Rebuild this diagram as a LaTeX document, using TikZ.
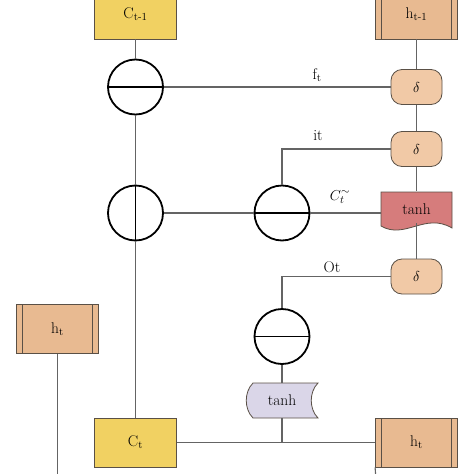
\documentclass[tikz,border=0pt]{standalone}
\usepackage{fontspec}
\usetikzlibrary{calc}
\definecolor{cyel}{RGB}{241,209,98}
\definecolor{hpeach}{RGB}{232,186,145}
\definecolor{spch}{RGB}{241,201,166}
\definecolor{tred}{RGB}{214,124,124}
\definecolor{tlav}{RGB}{218,214,232}
\definecolor{conn}{RGB}{100,100,100}
\definecolor{bord}{RGB}{90,80,70}
\begin{document}
\begin{tikzpicture}[x=1pt,y=-1pt,
  every node/.style={font=\fontsize{15.5}{18}\selectfont},
  wire/.style={draw=conn,line width=1.1pt},
  cbox/.style={draw=bord,line width=0.8pt,fill=cyel,minimum width=82pt,minimum height=49pt,inner sep=0pt},
  hbox/.style={draw=bord,line width=0.8pt,fill=hpeach,minimum width=82pt,minimum height=49pt,inner sep=0pt,
    path picture={\draw[bord,line width=0.8pt] ([xshift=6pt]path picture bounding box.north west) -- ([xshift=6pt]path picture bounding box.south west);
                  \draw[bord,line width=0.8pt] ([xshift=-6pt]path picture bounding box.north east) -- ([xshift=-6pt]path picture bounding box.south east);}},
  sig/.style={draw=bord,line width=0.8pt,fill=spch,rounded corners=11pt,minimum width=51pt,minimum height=35pt,inner sep=0pt},
  gate/.style={draw=black,line width=1.8pt,circle,minimum size=55pt,inner sep=0pt},
  shp/.style={minimum width=71pt,minimum height=36pt,inner sep=0pt},
  lbl/.style={inner sep=0pt}]
\useasboundingbox (0,0) rectangle (474,474);

% boxes
\node[cbox] (cprev) at (135.5,14.5) {C\textsubscript{t-1}};
\node[hbox] (hprev) at (416.5,14.5) {h\textsubscript{t-1}};
\node[cbox] (ct) at (135.5,442.5) {C\textsubscript{t}};
\node[hbox] (hr) at (416.5,442.5) {h\textsubscript{t}};
\node[hbox] (hl) at (57.5,329) {h\textsubscript{t}};

% sigma nodes
\node[sig] (s1) at (416.5,87) {$\delta$};
\node[sig] (s2) at (416.5,149) {$\delta$};
\node[sig] (s3) at (416.5,276.5) {$\delta$};

% tanh shapes
\filldraw[fill=tred,draw=bord,line width=0.8pt] (381,192) -- (452,192) -- (452,228) .. controls (425,212) and (405,240) .. (381,226) -- cycle;
\node[shp] (t1) at (416.5,209) {tanh};
\coordinate (t1b) at (416.5,223);

\filldraw[fill=tlav,draw=bord,line width=0.8pt] (253,383) -- (318,383) .. controls (309,392) and (309,409) .. (318,418) -- (253,418) .. controls (244,409) and (244,392) .. (253,383) -- cycle;
\node[shp,minimum width=64pt,minimum height=35pt] (t2) at (282,400.5) {tanh};

% gates
\node[gate] (g1) at (135.5,87) {};
\node[gate] (g2) at (135.5,213) {};
\node[gate] (g3) at (282,213) {};
\node[gate] (g4) at (282,336.5) {};
\draw[line width=1.8pt] (g1.west) -- (g1.east);
\draw[line width=1.8pt] (g2.north) -- (g2.south);
\draw[line width=1.8pt] (g3.west) -- (g3.east);
\draw[line width=1.8pt] (g4.west) -- (g4.east);

% wires
\draw[wire] (cprev.south) -- (g1.north);
\draw[wire] (g1.south) -- (g2.north);
\draw[wire] (g2.south) -- (ct.north);
\draw[wire] (g1.east) -- (s1.west);
\draw[wire] (hprev.south) -- (s1.north);
\draw[wire] (s1.south) -- (s2.north);
\draw[wire] (s2.south) -- (t1.north);
\draw[wire] (t1b) -- (s3.north);
\draw[wire] (s2.west) -| (g3.north);
\draw[wire] (g2.east) -- (g3.west);
\draw[wire] (g3.east) -- (g3.east -| t1.west);
\draw[wire] (s3.west) -| (g4.north);
\draw[wire] (g4.south) -- (t2.north);
\coordinate (j) at (282,443);
\draw[wire] (t2.south) -- (j);
\draw[wire] (ct.east) -- (hr.west);
\coordinate (hlend) at (57.5,480);
\draw[wire] (hl.south) -- (hlend);
\coordinate (hrend) at (376,480);
\draw[wire] (hr.south west) -- (hrend);

% labels
\node[lbl] (lf) at (317,75) {f\textsubscript{t}};
\node[lbl] (li) at (318,136) {it};
\node[lbl] (lc) at (340,197) {$C^{\sim}_{t}$};
\node[lbl] (lo) at (332,267) {Ot};
\end{tikzpicture}
\end{document}
